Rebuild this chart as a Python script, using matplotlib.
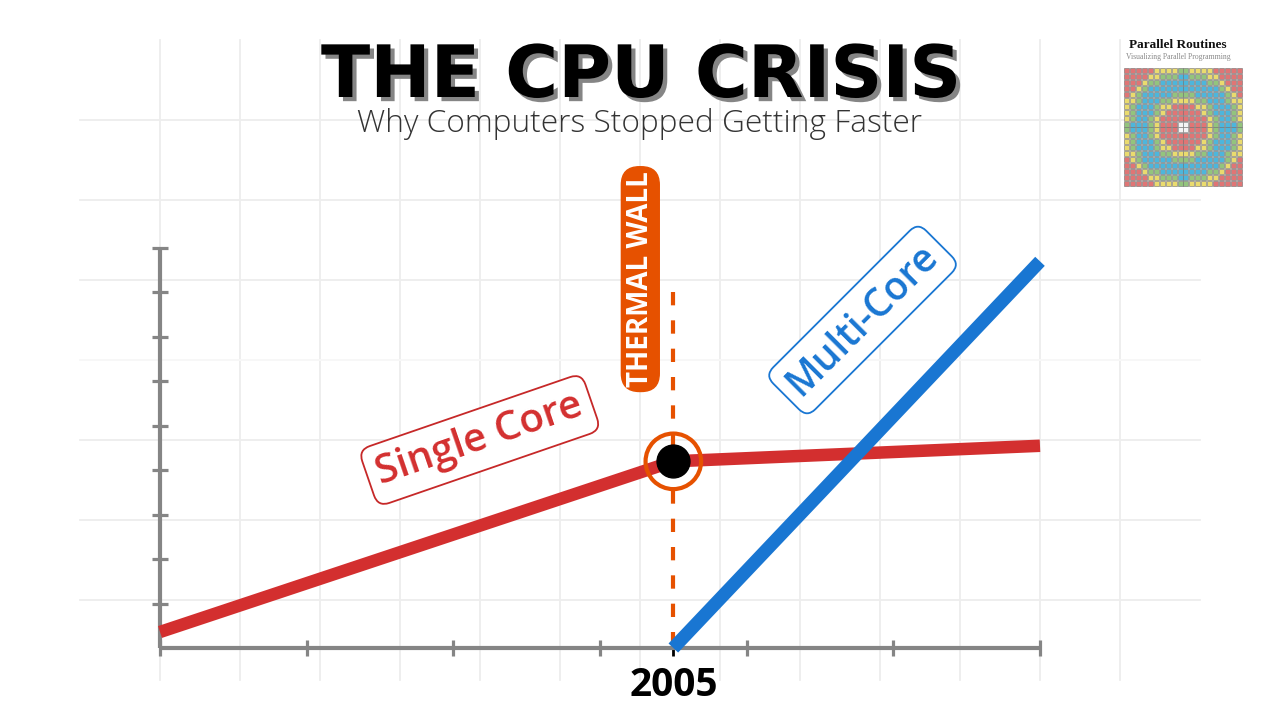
import numpy as np
import matplotlib
matplotlib.use("Agg")
import matplotlib.pyplot as plt
import matplotlib.patheffects as pe

# 数据
years_single = [1970, 2005, 2030]
perf_single = [0.36, 4.2, 4.55]
years_multi = [2005, 2030]
perf_multi = [0.0, 8.7]
wall_year = 2005
wall_top = 8.0
x_ticks = [1970, 1980, 1990, 2000, 2010, 2020, 2030]
y_ticks = [1, 2, 3, 4, 5, 6, 7, 8, 9]

RED = "#d32f2f"
BLUE = "#1976d2"
ORANGE = "#e65100"
AXC = "#858585"

plt.rcParams['font.family'] = ['Open Sans', 'DejaVu Sans']

fig = plt.figure(figsize=(12.8, 7.2), dpi=100)

# 背景网格 (像素坐标)
bg = fig.add_axes([0, 0, 1, 1])
bg.set_xlim(0, 1280)
bg.set_ylim(720, 0)
bg.axis('off')
for gx in range(160, 1121, 80):
    bg.plot([gx, gx], [40, 680], color="#ededed", lw=1.3, zorder=0)
for gy in [120, 200, 280, 440, 520, 600]:
    bg.plot([80, 1200], [gy, gy], color="#ededed", lw=1.3, zorder=0)
bg.plot([80, 1200], [360, 360], color="#f7f7f7", lw=1.3, zorder=0)

# 主坐标系
ax = fig.add_axes([0, 0, 1, 1])
ax.patch.set_alpha(0)
ppy = 880 / 60.0
ppu = 400 / 9.0
ax.set_xlim(1970 - 160 / ppy, 1970 + 1120 / ppy)
ax.set_ylim(-72 / ppu, 648 / ppu)

for s in ['top', 'right']:
    ax.spines[s].set_visible(False)
ax.spines['left'].set_position(('data', 1970))
ax.spines['left'].set_bounds(0, 9)
ax.spines['bottom'].set_position(('data', 0))
ax.spines['bottom'].set_bounds(1970, 2030)
for s in ['left', 'bottom']:
    ax.spines[s].set_color(AXC)
    ax.spines[s].set_linewidth(3)
    ax.spines[s].set_capstyle('butt')

ax.set_xticks(x_ticks)
ax.set_xticklabels([''] * len(x_ticks))
ax.set_yticks(y_ticks)
ax.set_yticklabels([''] * len(y_ticks))
ax.tick_params(axis='both', which='major', direction='inout', length=12,
               width=2.3, color=AXC)
ax.set_xticks([wall_year], minor=True)
ax.set_xticklabels([str(wall_year)], minor=True, fontsize=28,
                   fontweight='bold')
ax.tick_params(axis='x', which='minor', direction='out', length=6,
               width=2, color='black', pad=7)

# 曲线
ax.plot(years_single, perf_single, color=RED, lw=9, solid_capstyle='butt',
        solid_joinstyle='round', zorder=3)
ax.plot(years_multi, perf_multi, color=BLUE, lw=9.5, solid_capstyle='butt',
        zorder=4)
ax.plot([wall_year, wall_year], [wall_top, 0], color=ORANGE, lw=3,
        dashes=(3.2, 3.6), zorder=2)

# 拐点
ax.scatter([years_single[1]], [perf_single[1]], s=1600, facecolor='none',
           edgecolor=ORANGE, lw=3, zorder=5)
ax.scatter([years_single[1]], [perf_single[1]], s=560, color='black',
           zorder=6)

# 标签
ax.text(1991.8, 4.68, "Single Core", color=RED, fontsize=29,
        fontweight='semibold', rotation=19, ha='center', va='center',
        rotation_mode='anchor',
        bbox=dict(boxstyle='round,pad=0.25,rounding_size=0.3', fc='white',
                  ec='#c62828', lw=1.3), zorder=7)
ax.text(2017.9, 7.38, "Multi-Core", color=BLUE, fontsize=28,
        fontweight='semibold', rotation=45, ha='center', va='center',
        rotation_mode='anchor',
        bbox=dict(boxstyle='round,pad=0.25,rounding_size=0.3', fc='white',
                  ec=BLUE, lw=1.3), zorder=7)
ax.text(2002.75, 8.3, "THERMAL WALL", color='white', fontsize=20,
        fontweight='bold', rotation=90, ha='center', va='center',
        rotation_mode='anchor',
        bbox=dict(boxstyle='round,pad=0.16,rounding_size=0.65', fc=ORANGE,
                  ec=ORANGE, lw=1), zorder=7)

# 标题
fig.text(0.501, 1 - 97 / 720, "THE CPU CRISIS", ha='center', va='baseline',
         fontsize=52, fontweight='bold', color='black',
         family=['DejaVu Sans'],
         path_effects=[pe.SimplePatchShadow(offset=(3, -3),
                                            shadow_rgbFace='#858585',
                                            alpha=1.0),
                       pe.Normal()])
fig.text(0.5, 1 - 132 / 720, "Why Computers Stopped Getting Faster",
         ha='center', va='baseline', fontsize=22.8, fontweight='light',
         color='#333333')

# 右上角 logo
fig.text(1178 / 1280, 1 - 48 / 720, "Parallel Routines", ha='center',
         va='baseline', fontsize=9.5, fontweight='bold',
         family='Liberation Serif', color='#111111')
fig.text(1178 / 1280, 1 - 59 / 720, "Visualizing Parallel Programming",
         ha='center', va='baseline', fontsize=5.5, family='Liberation Serif',
         color='#888888')

lg = fig.add_axes([1122 / 1280, 1 - 188 / 720, 122 / 1280, 122 / 720])
lg.axis('off')
ring_edges = [0.8, 4.2, 5.0, 5.8, 8.6, 9.6, 10.6, 99]
ring_cols = ['#f4f4f4', '#e07575', '#eadb6e', '#93c47d', '#4db6dc',
             '#93c47d', '#eadb6e', '#e07575']
n = 20
xs, ys, cs = [], [], []
for i in range(n):
    for j in range(n):
        d = np.hypot(j - 9.5, i - 9.5)
        k = int(np.searchsorted(ring_edges, d))
        xs.append(j)
        ys.append(i)
        cs.append(ring_cols[k])
lg.scatter(xs, ys, marker='s', s=13, c=cs, edgecolors='#6f6f6f',
           linewidths=0.4)
lg.set_xlim(-0.7, n - 0.3)
lg.set_ylim(-0.7, n - 0.3)

fig.savefig("out.png", dpi=100)
